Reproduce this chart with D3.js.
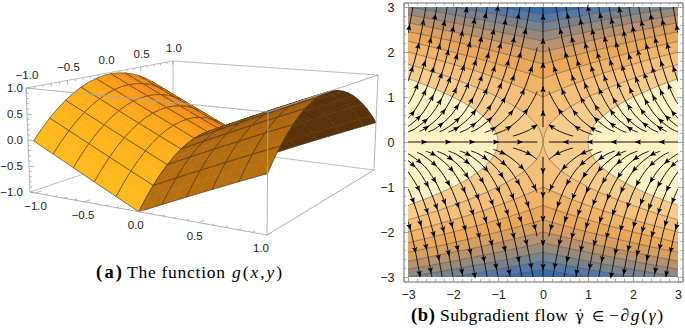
<!DOCTYPE html>
<html>
<head>
<meta charset="utf-8">
<style>
  body { margin: 0; background: #fff; }
  text { font-family: "Liberation Sans", sans-serif; fill: #222; }
  text.cap { font-family: "Liberation Serif", serif; fill: #000; }
</style>
<script src="https://cdn.jsdelivr.net/npm/d3@7"></script>
</head>
<body>
<svg id="fig" width="685" height="328"></svg>
<script>
const meshU = [-1, -0.9, -0.8, -0.7, -0.6, -0.5, -0.4, -0.3, -0.2, -0.1, 0, 0.1, 0.2, 0.3, 0.4, 0.5, 0.6, 0.7, 0.8, 0.9, 1];
const meshV = [-1, -0.9, -0.8, -0.7, -0.6, -0.5, -0.4, -0.3, -0.2, -0.1, 0, 0.1, 0.2, 0.3, 0.4, 0.5, 0.6, 0.7, 0.8, 0.9, 1];
const valleyRise = [1, 0.9, 0.8, 0.7, 0.6, 0.5, 0.4, 0.3, 0.2, 0.1, 0, 0.1, 0.2, 0.3, 0.4, 0.5, 0.6, 0.7, 0.8, 0.9, 1];
const ridgeDrop = [1, 0.81, 0.64, 0.49, 0.36, 0.25, 0.16, 0.09, 0.04, 0.01, 0, 0.01, 0.04, 0.09, 0.16, 0.25, 0.36, 0.49, 0.64, 0.81, 1];
const leftFaceV = [-1, -0.5, -0.1, 0.2, 0.5, 1];
const leftFaceColors = ['#ffbb1e', '#fdb01c', '#fb9c18', '#ef8a18', '#dc7c18', '#c87018'];
const rightFaceV = [-1, -0.5, -0.05, 0.05, 1];
const rightFaceColors = ['#b87010', '#b26a10', '#955810', '#5e350a', '#5c3309'];
const boxTicks = [-1, -0.5, 0, 0.5, 1];
const boxTickLabels = ['\u22121.0', '\u22120.5', '0.0', '0.5', '1.0'];

// contour crossings for plot (b): |y| where each level crosses, for x >= 0
const contourX = [0, 0.5, 1, 1.5, 2, 2.5, 3];
const contourM1 = [1, 1.22, 1.41, 1.58, 1.73, 1.87, 2];
const contourM2 = [1.41, 1.58, 1.73, 1.87, 2, 2.12, 2.24];
const contourM3 = [1.73, 1.87, 2, 2.12, 2.24, 2.35, 2.45];
const contourM4 = [2, 2.12, 2.24, 2.35, 2.45, 2.55, 2.65];
const contourM5 = [2.24, 2.35, 2.45, 2.55, 2.65, 2.74, 2.83];
const contourM6 = [2.45, 2.55, 2.65, 2.74, 2.83, 2.92, 3];
const contourM7 = [2.65, 2.74, 2.83, 2.92, 3, 3.08, 3.16];
const contourM8 = [2.83, 2.92, 3, 3.08, 3.16, 3.24, 3.32];
const contour0X = [0, 0.05, 0.15, 0.3, 0.5, 1, 1.5, 2, 2.5, 3];
const contour0Y = [0, 0.22, 0.39, 0.55, 0.71, 1, 1.22, 1.41, 1.58, 1.73];
const contourP1X = [1, 1.02, 1.08, 1.2, 1.5, 2, 2.5, 3];
const contourP1Y = [0, 0.14, 0.28, 0.45, 0.71, 1, 1.22, 1.41];
const bandBase = '#3a6aa8';
const bandColors = ['#5578a8', '#77828f', '#968a7e', '#b8926e', '#d89f62', '#e9a858', '#f0b468', '#f3bf7a', '#f6cc8c', '#fff2c4'];

// stream shape: height against distance left of where a line reaches y = 3
const shapeDx = [0, 0.1, 0.2, 0.3, 0.4, 0.5, 0.6, 0.8, 1, 1.2, 1.5, 1.8, 2.2, 2.7, 3.2, 3.9];
const shapeY = [3, 2.46, 2.01, 1.65, 1.35, 1.1, 0.9, 0.6, 0.41, 0.27, 0.15, 0.08, 0.037, 0.014, 0.005, 0.001];
const topCrossX = [-2.89, -2.6, -2.36, -2.13, -1.91, -1.69, -1.47, -1.24, -1, -0.78, -0.51, -0.29, 0.05, 0.36, 0.9];
const topStartX = [-3, -3, -3, -3, -3, -3, -2.75, -2.55, -2.3, -2.1, -1.85, -1.6, -1.3, -1.1, -0.67];
const bottomCrossX = [-2.73, -2.47, -2.24, -2, -1.78, -1.51, -1.24, -1, -0.73, -0.47, -0.22, 0.05, 0.36, 0.9];
const bottomStartX = [-3, -3, -3, -3, -3, -2.8, -2.6, -2.35, -2.1, -1.85, -1.6, -1.3, -1.1, -0.67];
const axisTicks = [-3, -2, -1, 0, 1, 2, 3];
const minorTicks = d3.range(-30, 31, 2).map(d => d / 10);

const svg = d3.select('#fig');

// ---------- (a) surface ----------
const boxX = [30, 26, 173, 173, 267, 268, 374, 378]; // u,v,z corners, z then v then u
const boxY = [192, 88, 144, 61, 235, 112, 170, 75];
const uT = d3.scaleLinear([-1.06, 1], [0, 1]);
const vT = d3.scaleLinear([-1, 1], [0, 1]);
const zT = d3.scaleLinear([-1, 1], [0, 1]);

function project(u, v, z) {
    const s = uT(u), t = vT(v), c = zT(z);
    const a = 0.8 * s / (1 - 0.2 * s);      // u foreshortening
    const b = 1.18 * t / (1 + t * 0.18);    // v foreshortening
    const mix = (k) =>
        (1 - a) * ((1 - b) * ((1 - c) * k[0] + c * k[1]) + b * ((1 - c) * k[2] + c * k[3])) +
        a * ((1 - b) * ((1 - c) * k[4] + c * k[5]) + b * ((1 - c) * k[6] + c * k[7]));
    return [mix(boxX), mix(boxY)];
}

const leftColor = d3.scaleLinear(leftFaceV, leftFaceColors);
const rightColor = d3.scaleLinear(rightFaceV, rightFaceColors);
const poly = d3.line().curve(d3.curveLinearClosed);
const surfZ = (i, j) => valleyRise[i] - ridgeDrop[j];

const a = svg.append('g');
function boxEdge(p, q, front) {
    a.append('line')
        .attr('x1', p[0]).attr('y1', p[1]).attr('x2', q[0]).attr('y2', q[1])
        .attr('stroke', front ? '#a9a9a9' : '#b5b5b5').attr('stroke-width', 0.9);
}
function meshEdge(p, q) {
    a.append('line')
        .attr('x1', p[0]).attr('y1', p[1]).attr('x2', q[0]).attr('y2', q[1])
        .attr('stroke', '#3a3020').attr('stroke-opacity', 0.72).attr('stroke-width', 0.8);
}
// back edges first
boxEdge(project(-1.06, 1, 1), project(-1.06, -1, 1));
boxEdge(project(-1.06, 1, 1), project(1, 1, 1));
boxEdge(project(-1.06, 1, 1), project(-1.06, 1, -1));
boxEdge(project(-1.06, 1, -1), project(-1.06, -1, -1));
boxEdge(project(-1.06, 1, -1), project(1, 1, -1));

// far cells first: low u, high v. Mesh lines on every other sample
for (let i = 0; i < meshU.length - 1; i++) {
    for (let j = meshV.length - 2; j >= 0; j--) {
        const p00 = project(meshU[i], meshV[j], surfZ(i, j));
        const p10 = project(meshU[i + 1], meshV[j], surfZ(i + 1, j));
        const p11 = project(meshU[i + 1], meshV[j + 1], surfZ(i + 1, j + 1));
        const p01 = project(meshU[i], meshV[j + 1], surfZ(i, j + 1));
        const mid = (meshV[j] + meshV[j + 1]) / 2;
        const fill = meshU[i] < 0 ? leftColor(mid) : rightColor(mid);
        a.append('path').attr('d', poly([p00, p10, p11, p01])).attr('fill', fill)
            .attr('stroke', fill).attr('stroke-width', 0.5);
        if (i % 2 === 0) meshEdge(p00, p01);
        if ((i + 1) % 2 === 0) meshEdge(p10, p11);
        if (j % 2 === 0) meshEdge(p00, p10);
        if ((j + 1) % 2 === 0) meshEdge(p01, p11);
    }
}

// front edges over the surface
boxEdge(project(-1.06, -1, 1), project(-1.06, -1, -1), true);
boxEdge(project(-1.06, -1, 1), project(1, -1, 1), true);
boxEdge(project(1, -1, 1), project(1, 1, 1), true);
boxEdge(project(1, 1, 1), project(1, 1, -1), true);
boxEdge(project(1, -1, 1), project(1, -1, -1), true);
boxEdge(project(-1.06, -1, -1), project(1, -1, -1), true);
boxEdge(project(1, -1, -1), project(1, 1, -1), true);

// box ticks
d3.range(-10, 11).map(d => d / 10).forEach(t => {
    const major = Math.abs(t * 2 % 1) < 1e-6;
    const len = major ? 0.07 : 0.035;
    boxEdge(project(t, -1, -1), project(t, -1 + len, -1), true);
    boxEdge(project(-1.06, t, 1), project(-1.06, t, 1 - len * 1.3), true);
    boxEdge(project(-1.06, -1, t), project(-1.06 + len * 0.7, -1, t), true);
});

const labelDx = d3.scaleLinear([-1, 1], [0, -6]);
boxTicks.forEach((t, k) => {
    const pu = project(t, -1, -1);
    a.append('text').attr('x', pu[0] + labelDx(t)).attr('y', pu[1] + 17)
        .attr('text-anchor', 'middle').attr('font-size', 11.5).text(boxTickLabels[k]);
    const pv = project(-1.06, t, 1);
    a.append('text').attr('x', pv[0] + 1).attr('y', pv[1] - 9)
        .attr('text-anchor', 'middle').attr('font-size', 11.5).text(boxTickLabels[k]);
    const pz = project(-1.06, -1, t);
    a.append('text').attr('x', 23).attr('y', pz[1] + 4)
        .attr('text-anchor', 'end').attr('font-size', 11.5).text(boxTickLabels[k]);
});

// ---------- (b) subgradient flow ----------
const x = d3.scaleLinear([-3.1, 3.1], [403.5, 682.5]);
const y = d3.scaleLinear([-3.1, 3.1], [281.5, 2.5]);
const b = svg.append('g');

b.append('clipPath').attr('id', 'plotClip').append('rect')
    .attr('x', x(-3)).attr('y', y(3)).attr('width', x(3) - x(-3)).attr('height', y(-3) - y(3));
const plot = b.append('g').attr('clip-path', 'url(#plotClip)');

plot.append('rect').attr('x', x(-3)).attr('y', y(3))
    .attr('width', x(3) - x(-3)).attr('height', y(-3) - y(3)).attr('fill', bandBase);

const contours = [contourM8, contourM7, contourM6, contourM5, contourM4, contourM3, contourM2, contourM1]
    .map(c => ({ xs: contourX, ys: c }));
contours.push({ xs: contour0X, ys: contour0Y });
contours.push({ xs: contourP1X, ys: contourP1Y });

const band = d3.area().x(d => x(d[0])).y0(d => y(d[1])).y1(d => y(-d[1])).curve(d3.curveCatmullRom.alpha(0.5));
const edge = d3.line().x(d => x(d[0])).y(d => y(d[1])).curve(d3.curveCatmullRom.alpha(0.5));

contours.forEach((c, k) => {
    [-1, 1].forEach(side => {
        const pts = c.xs.map((v, i) => [side * v, c.ys[i]]).sort((p, q) => p[0] - q[0]);
        plot.append('path').attr('d', band(pts)).attr('fill', bandColors[k])
            .attr('stroke', bandColors[k]).attr('stroke-width', 0.6);
    });
});
contours.forEach(c => {
    [-1, 1].forEach(sx => [-1, 1].forEach(sy => {
        const pts = c.xs.map((v, i) => [sx * v, sy * c.ys[i]]);
        plot.append('path').attr('d', edge(pts)).attr('fill', 'none')
            .attr('stroke', '#5c5040').attr('stroke-opacity', 0.6).attr('stroke-width', 0.9);
    }));
});

// streamlines
const shape = d3.scaleLinear(shapeDx, shapeY);
const stream = d3.line().x(d => x(d[0])).y(d => y(d[1])).curve(d3.curveCatmullRom.alpha(0.5));
const arrows = b.append('g');

function drawStream(pts, phase) {
    const path = plot.append('path').attr('d', stream(pts)).attr('fill', 'none')
        .attr('stroke', '#111').attr('stroke-width', 1);
    const node = path.node();
    const total = node.getTotalLength();
    for (let s = phase; s < total - 1; s += 24) {
        const p = node.getPointAtLength(s);
        const p0 = node.getPointAtLength(Math.max(0, s - 2));
        const p1 = node.getPointAtLength(Math.min(total, s + 2));
        const ang = Math.atan2(p1.y - p0.y, p1.x - p0.x) * 180 / Math.PI;
        arrows.append('path').attr('d', 'M3.4,0L-3,-2.6L-1.8,0L-3,2.6Z')
            .attr('fill', '#000')
            .attr('transform', `translate(${p.x},${p.y}) rotate(${ang})`);
    }
}

function quadrant(cross, start, sy) {
    cross.forEach((xe, n) => {
        const from = start[n], to = Math.min(xe, -0.13);
        const inner = shapeDx.map(d => xe - d).filter(v => v > from && v < to).reverse();
        const xs = [from, ...inner, to];
        const phase = 6 + (n * 7) % 20;
        [-1, 1].forEach(sx => {
            drawStream(xs.map(v => [sx * v, sy * shape(xe - v)]), phase);
        });
    });
}
quadrant(topCrossX, topStartX, 1);
quadrant(bottomCrossX, bottomStartX, -1);

// the two axes carry straight streams
[-1, 1].forEach(s => {
    drawStream([[s * 3, 0], [s * 0.13, 0]], 16);
    drawStream([[0, s * 0.33], [0, s * 3]], 14);
});

// frame and ticks
const frameColor = '#9a9a9a';
function styleAxis(g) {
    g.selectAll('.domain').attr('stroke', frameColor).attr('stroke-width', 1);
    g.selectAll('line').attr('stroke', frameColor).attr('stroke-width', 0.8);
    g.selectAll('text').attr('font-size', 12.5).attr('fill', '#222')
        .attr('font-family', '"Liberation Sans", sans-serif');
}
const fmt = d => (d < 0 ? '\u2212' + (-d) : '' + d);
function frameSide(make, tx, ty, labels) {
    const minor = b.append('g').attr('transform', `translate(${tx},${ty})`)
        .call(make.tickValues(minorTicks).tickSize(-2.5).tickFormat(''));
    styleAxis(minor);
    const major = b.append('g').attr('transform', `translate(${tx},${ty})`)
        .call(make.tickValues(axisTicks).tickSize(-5).tickPadding(labels ? 9 : 0)
            .tickFormat(labels ? fmt : ''));
    styleAxis(major);
}
frameSide(d3.axisBottom(x), 0, y(-3.1), true);
frameSide(d3.axisTop(x), 0, y(3.1), false);
frameSide(d3.axisLeft(y), x(-3.1), 0, true);
frameSide(d3.axisRight(y), x(3.1), 0, false);

// captions, each piece fitted to its width in the figure
function caption(px, py, width, parts, size) {
    const t = svg.append('text').attr('class', 'cap').attr('x', px).attr('y', py)
        .attr('font-size', size || 17.5);
    if (width) t.attr('textLength', width);
    parts.forEach(([str, style]) => {
        const s = t.append('tspan').text(str);
        if (style === 'b') s.attr('font-weight', 'bold');
        if (style === 'i') s.attr('font-style', 'italic');
    });
    return t;
}
caption(96, 278, 26, [['(a)', 'b']], 18.5);
caption(127, 278, 98, [['The function', '']]);
caption(232, 278, 50, [['g', 'i'], ['(', ''], ['x', 'i'], [',', ''], ['y', 'i'], [')', '']]);
caption(411, 321, 24, [['(b)', 'b']], 18.5);
caption(440, 321, 128, [['Subgradient flow', '']]);
caption(575, 321, 0, [['\u03b3\u0307', '']], 15).style('font-family', '"DejaVu Serif", serif');
caption(592, 321, 0, [['\u2208', '']], 14);
caption(609, 321, 54, [['\u2212\u2202', ''], ['g', 'i'], ['(', ''], ['\u03b3', 'i'], [')', '']]);
</script>
</body>
</html>
